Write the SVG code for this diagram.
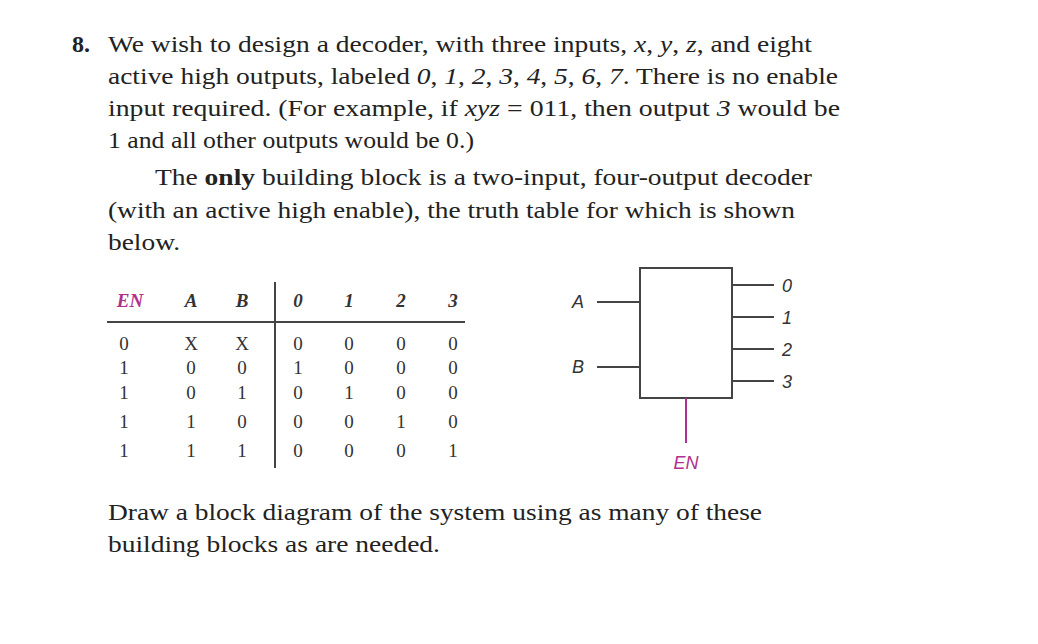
<svg xmlns="http://www.w3.org/2000/svg" width="1038" height="644" viewBox="0 0 1038 644">
<style>
.t{font-family:"Liberation Serif",serif;font-size:24px;fill:#222}
.tb{font-family:"Liberation Serif",serif;font-size:19px;fill:#333;text-anchor:middle}
.h{font-weight:bold;font-style:italic}
.s{font-family:"Liberation Sans",sans-serif;font-size:18px;fill:#333;font-style:italic}
.ln{stroke:#444;stroke-width:2;fill:none}
</style>
<rect width="1038" height="644" fill="#fff"/>
<g id="text">
<text class="t" x="72" y="52"><tspan font-weight="bold">8.</tspan></text>
<text class="t" x="108" y="52" textLength="704" lengthAdjust="spacingAndGlyphs">We wish to design a decoder, with three inputs, <tspan font-style="italic">x</tspan>, <tspan font-style="italic">y</tspan>, <tspan font-style="italic">z</tspan>, and eight</text>
<text class="t" x="108" y="84" textLength="730" lengthAdjust="spacingAndGlyphs">active high outputs, labeled <tspan font-style="italic">0</tspan>, <tspan font-style="italic">1</tspan>, <tspan font-style="italic">2</tspan>, <tspan font-style="italic">3</tspan>, <tspan font-style="italic">4</tspan>, <tspan font-style="italic">5</tspan>, <tspan font-style="italic">6</tspan>, <tspan font-style="italic">7</tspan>. There is no enable</text>
<text class="t" x="108" y="116" textLength="732" lengthAdjust="spacingAndGlyphs">input required. (For example, if <tspan font-style="italic">xyz</tspan> = 011, then output <tspan font-style="italic">3</tspan> would be</text>
<text class="t" x="108" y="148" textLength="366" lengthAdjust="spacingAndGlyphs">1 and all other outputs would be 0.)</text>
<text class="t" x="155" y="185" textLength="657" lengthAdjust="spacingAndGlyphs">The <tspan font-weight="bold">only</tspan> building block is a two-input, four-output decoder</text>
<text class="t" x="108" y="218" textLength="687" lengthAdjust="spacingAndGlyphs">(with an active high enable), the truth table for which is shown</text>
<text class="t" x="108" y="250" textLength="72" lengthAdjust="spacingAndGlyphs">below.</text>
<text class="t" x="108" y="520" textLength="654" lengthAdjust="spacingAndGlyphs">Draw a block diagram of the system using as many of these</text>
<text class="t" x="108" y="552" textLength="332" lengthAdjust="spacingAndGlyphs">building blocks as are needed.</text>
</g>
<g id="table">
<line class="ln" x1="107" y1="322" x2="465" y2="322"/>
<line class="ln" x1="275" y1="282" x2="275" y2="468"/>
<text class="tb h" x="130" y="307" style="fill:#b0308e">EN</text>
<text class="tb h" x="191" y="307">A</text>
<text class="tb h" x="242" y="307">B</text>
<text class="tb h" x="298" y="307">0</text>
<text class="tb h" x="349" y="307">1</text>
<text class="tb h" x="401" y="307">2</text>
<text class="tb h" x="453" y="307">3</text>
<g>
<text class="tb" x="124" y="350">0</text><text class="tb" x="191" y="350">X</text><text class="tb" x="242" y="350">X</text><text class="tb" x="298" y="350">0</text><text class="tb" x="349" y="350">0</text><text class="tb" x="401" y="350">0</text><text class="tb" x="453" y="350">0</text>
<text class="tb" x="124" y="374">1</text><text class="tb" x="191" y="374">0</text><text class="tb" x="242" y="374">0</text><text class="tb" x="298" y="374">1</text><text class="tb" x="349" y="374">0</text><text class="tb" x="401" y="374">0</text><text class="tb" x="453" y="374">0</text>
<text class="tb" x="124" y="399">1</text><text class="tb" x="191" y="399">0</text><text class="tb" x="242" y="399">1</text><text class="tb" x="298" y="399">0</text><text class="tb" x="349" y="399">1</text><text class="tb" x="401" y="399">0</text><text class="tb" x="453" y="399">0</text>
<text class="tb" x="124" y="428">1</text><text class="tb" x="191" y="428">1</text><text class="tb" x="242" y="428">0</text><text class="tb" x="298" y="428">0</text><text class="tb" x="349" y="428">0</text><text class="tb" x="401" y="428">1</text><text class="tb" x="453" y="428">0</text>
<text class="tb" x="124" y="457">1</text><text class="tb" x="191" y="457">1</text><text class="tb" x="242" y="457">1</text><text class="tb" x="298" y="457">0</text><text class="tb" x="349" y="457">0</text><text class="tb" x="401" y="457">0</text><text class="tb" x="453" y="457">1</text>
</g>
</g>
<g id="decoder">
<rect class="ln" x="640" y="268" width="92" height="130"/>
</g>
<g id="connectors">
<line class="ln" x1="597" y1="302" x2="640" y2="302"/>
<line class="ln" x1="597" y1="367" x2="640" y2="367"/>
<line class="ln" x1="732" y1="285" x2="774" y2="285"/>
<line class="ln" x1="732" y1="317" x2="774" y2="317"/>
<line class="ln" x1="732" y1="349" x2="774" y2="349"/>
<line class="ln" x1="732" y1="381" x2="774" y2="381"/>
<line x1="686" y1="398" x2="686" y2="443" stroke="#b0308e" stroke-width="2"/>
</g>
<g id="labels">
<text class="s" x="572" y="308">A</text>
<text class="s" x="572" y="373">B</text>
<text class="s" x="782" y="292">0</text>
<text class="s" x="782" y="324">1</text>
<text class="s" x="782" y="356">2</text>
<text class="s" x="782" y="388">3</text>
<text class="s" x="686" y="469" text-anchor="middle" style="fill:#b0308e">EN</text>
</g>
</svg>
